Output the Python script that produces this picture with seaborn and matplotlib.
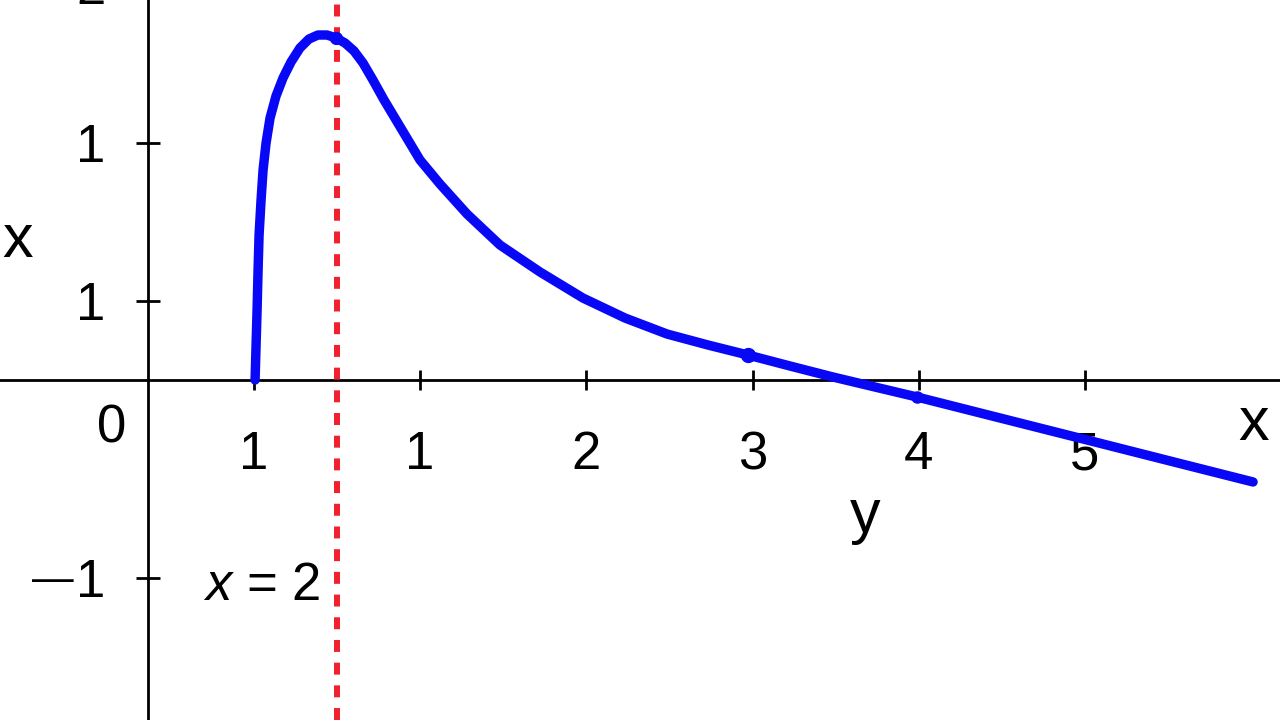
import numpy as np
import pandas as pd
import matplotlib
matplotlib.use("Agg")
import matplotlib.pyplot as plt
import seaborn as sns

# curve (x-tick spacing = 1 unit)
curve_x = [0.008, 0.014, 0.020, 0.026, 0.032, 0.044, 0.056, 0.074, 0.098, 0.134,
           0.176, 0.224, 0.278, 0.332, 0.386, 0.441, 0.495, 0.549, 0.603, 0.657,
           0.717, 0.784, 0.856, 0.928, 1.000, 1.120, 1.283, 1.481, 1.722, 1.980,
           2.233, 2.486, 2.732, 2.973, 3.226, 3.484, 3.737, 3.989, 4.489, 5.012,
           5.511, 6.011]
curve_y = [0.000, 0.443, 0.886, 1.392, 1.835, 2.278, 2.658, 3.000, 3.316, 3.595,
           3.823, 4.025, 4.203, 4.316, 4.367, 4.367, 4.329, 4.266, 4.165, 4.013,
           3.797, 3.544, 3.291, 3.038, 2.785, 2.481, 2.101, 1.709, 1.367, 1.038,
           0.785, 0.582, 0.443, 0.316, 0.177, 0.038, -0.089, -0.215, -0.481, -0.759,
           -1.025, -1.291]

# small dots sitting on the curve
point_x = [0.495, 2.973, 3.989]
point_y = [4.329, 0.316, -0.215]
point_size = [8.5, 10, 8]

asymptote_x = 0.5

xtick_pos = [0, 1, 2, 3, 4, 5]
xtick_labels = ["1", "1", "2", "3", "4", "5"]
ytick_pos = [5, 3, 1, -2.5]
ytick_labels = ["2", "1", "1", "1"]

sns.set_theme(style="white")
plt.rcParams["font.family"] = ["Liberation Sans", "DejaVu Sans"]
plt.rcParams["mathtext.fontset"] = "custom"
plt.rcParams["mathtext.it"] = "Liberation Sans:italic"
plt.rcParams["mathtext.rm"] = "Liberation Sans"
plt.rcParams["text.color"] = "black"

fig = plt.figure(figsize=(12.8, 7.2), dpi=100)
ax = fig.add_axes([0, 0, 1, 760 / 720])
ax.set_xlim(-253.75 / 166.25, (1280 - 253.75) / 166.25)
ax.set_ylim(-340 / 79, 420 / 79)

blue = "#0808f6"
df = pd.DataFrame({"x": curve_x, "y": curve_y})
sns.lineplot(data=df, x="x", y="y", sort=False, color=blue, lw=6.8,
             solid_capstyle="round", solid_joinstyle="round", ax=ax, zorder=4)
for px_, py_, ms_ in zip(point_x, point_y, point_size):
    ax.plot([px_], [py_], "o", color=blue, ms=ms_, zorder=5)

# vertical asymptote
ax.axvline(asymptote_x, color="#f0202e", lw=4.3, dashes=(2, 1.8), zorder=3)

# axes through the origin
for side in ["top", "right"]:
    ax.spines[side].set_visible(False)
ax.spines["left"].set_position(("data", -0.636))
ax.spines["bottom"].set_position(("data", 0))
for side in ["left", "bottom"]:
    ax.spines[side].set_color("black")
    ax.spines[side].set_linewidth(2.0)
    ax.spines[side].set_zorder(2)

ax.set_xticks(xtick_pos)
ax.set_xticklabels(xtick_labels)
ax.set_yticks(ytick_pos)
ax.set_yticklabels(ytick_labels)
ax.tick_params(axis="x", bottom=True, direction="inout", length=14, width=2.0,
               color="black", pad=29, labelsize=38, labelcolor="black")
ax.tick_params(axis="y", left=True, direction="inout", length=17, width=2.0,
               color="black", pad=22, labelsize=38, labelcolor="black")
ax.set_xlabel("")
ax.set_ylabel("")

# minus sign of the lowest y label
ax.text(-1.21, -2.53, "\u2014", fontsize=30, color="black", ha="center", va="center")

# labels
ax.text(-0.853, -0.785, "0", fontsize=38, color="black", ha="center", va="baseline")
ax.text(-1.418, 1.557, "x", fontsize=44, color="black", ha="center", va="baseline")
ax.text(6.016, -0.759, "x", fontsize=44, color="black", ha="center", va="baseline")
ax.text(3.676, -1.924, "y", fontsize=44, color="black", ha="center", va="baseline")
ax.text(0.40, -2.785, "$x$ = 2", fontsize=38, color="black", ha="right", va="baseline")

fig.savefig("out.png", dpi=100)
